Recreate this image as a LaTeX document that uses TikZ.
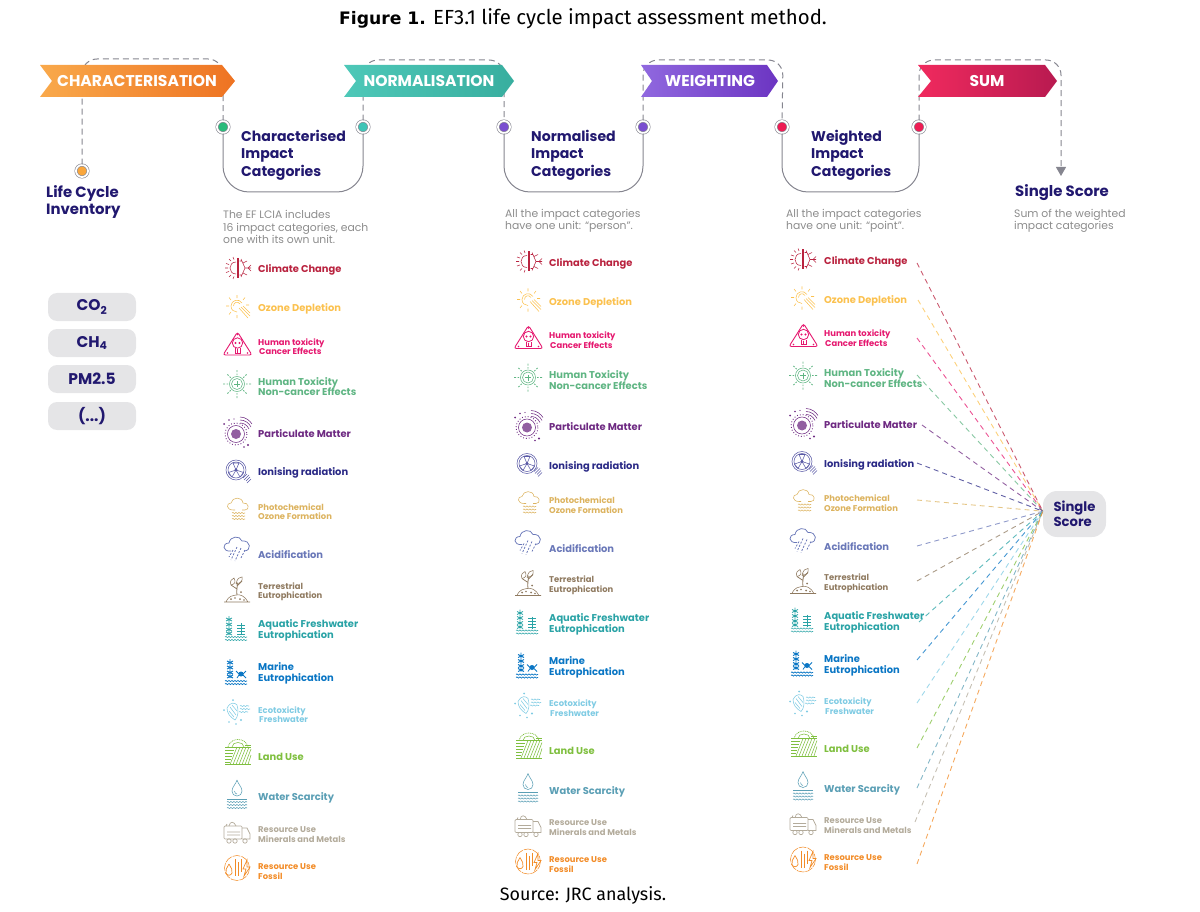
\documentclass[tikz,border=0pt]{standalone}
\usepackage{fontspec}
\usepackage{tikz}
\usepackage{xcolor}
\usetikzlibrary{shapes,arrows.meta,decorations.pathmorphing}
\setmainfont{Fira Sans}
\newfontfamily\gothamfont{Poppins}
\newfontfamily\figfont{DejaVu Sans}

\definecolor{navy}{HTML}{21186F}
\definecolor{greytext}{HTML}{8C8C8C}
\definecolor{flowgrey}{HTML}{85858F}
\definecolor{pillgrey}{HTML}{E5E5E7}
\definecolor{cclimate}{HTML}{B9233F}
\definecolor{cozone}{HTML}{FBC14F}
\definecolor{chumtox}{HTML}{E5186F}
\definecolor{cnoncan}{HTML}{5FB583}
\definecolor{cpart}{HTML}{6E2A82}
\definecolor{cion}{HTML}{2B2A86}
\definecolor{cionicon}{HTML}{5A5AA6}
\definecolor{cphoto}{HTML}{DCB35F}
\definecolor{cacid}{HTML}{6A78B8}
\definecolor{cterr}{HTML}{8F7A60}
\definecolor{caqua}{HTML}{2AA3A6}
\definecolor{cmarine}{HTML}{0A76C4}
\definecolor{ceco}{HTML}{7FCBE3}
\definecolor{cland}{HTML}{7FBF3F}
\definecolor{cwater}{HTML}{5B9FB5}
\definecolor{cmineral}{HTML}{B3AB9B}
\definecolor{cfossil}{HTML}{F28C28}
\definecolor{charleft}{HTML}{F9A94B}
\definecolor{charright}{HTML}{EE7322}
\definecolor{normleft}{HTML}{4EC8B8}
\definecolor{normright}{HTML}{38AE9F}
\definecolor{wgtleft}{HTML}{9068DF}
\definecolor{wgtright}{HTML}{6C35C2}
\definecolor{sumleft}{HTML}{F02A5E}
\definecolor{sumright}{HTML}{B81A50}
\definecolor{dotlcicol}{HTML}{F9A63C}
\definecolor{dotcharcol}{HTML}{2ABB7B}
\definecolor{dotnormcol}{HTML}{3FC4B6}
\definecolor{dotwgtcol}{HTML}{7A4FD0}
\definecolor{dotsumcol}{HTML}{EE1C54}

\tikzset{
  lab/.style={anchor=west,align=left,inner sep=0pt,yshift=-1pt,font=\gothamfont\bfseries\fontsize{9.9}{10.8}\selectfont},
  sublab/.style={anchor=west,align=left,inner sep=0pt,yshift=-0.7pt,font=\gothamfont\bfseries\fontsize{8.4}{9.8}\selectfont},
  head/.style={anchor=west,align=left,inner sep=0pt,yshift=-2pt,text=navy,font=\gothamfont\bfseries\fontsize{14.1}{17.6}\selectfont},
  headwide/.style={head,font=\gothamfont\bfseries\fontsize{14.9}{17.6}\selectfont},
  note/.style={anchor=west,align=left,inner sep=0pt,yshift=-1pt,text=greytext,font=\gothamfont\fontsize{10.8}{12.5}\selectfont},
  bantext/.style={text=white,inner sep=0pt,font=\gothamfont\bfseries\fontsize{15.6}{18}\selectfont},
  pill/.style={fill=pillgrey,rounded corners=9pt,minimum width=88pt,minimum height=28pt,inner sep=0pt,text=navy,font=\gothamfont\bfseries\fontsize{15.5}{17}\selectfont},
  dot/.style={circle,draw=flowgrey,double=white,double distance=1.8pt,line width=0.6pt,minimum size=12pt,inner sep=0pt},
  flow/.style={draw=flowgrey,line width=1pt,dash pattern=on 6pt off 4pt},
  ubend/.style={draw=flowgrey,line width=1pt,rounded corners=26pt},
  link/.style={line width=0.9pt,dash pattern=on 5pt off 4pt,opacity=0.75},
  ico/.style={line width=0.55pt},
  wave/.style={decorate,decoration={snake,amplitude=0.6pt,segment length=3pt}},
  iconclimate/.pic={
    \draw[ico] (-0.5,-10) -- (-0.5,10) (0.5,-10) -- (0.5,10);
    \draw[ico] (-2,-6) .. controls (-10,-6) and (-10,6) .. (-2,6);
    \draw[ico] (-7,-7) -- (-9,-9) (-9,-3.5) -- (-12,-4.5) (-10,0) -- (-13,0) (-9,3.5) -- (-12,4.5) (-7,7) -- (-9,9) (-4,-8.5) -- (-5,-11) (-4,8.5) -- (-5,11);
    \draw[ico] (3,-9) -- (7,0) -- (3,9) (7,0) -- (13,0) (10,0) -- (13,-3) (10,0) -- (13,3) (5,-5) -- (9,-7) (5,5) -- (9,7) (4,-7) -- (1.5,-7) (4,7) -- (1.5,7);
  },
  iconozone/.pic={
    \draw[ico] (4,-4) .. controls (1,-9) and (-7,-7) .. (-7,-1) .. controls (-7,3) and (-4,5) .. (-1,5);
    \draw[ico] (2,-3) .. controls (0,-6) and (-4.5,-5) .. (-4.5,-1);
    \draw[ico] (-1,-9) -- (-1,-12) (5,-7) -- (7,-9.5) (-7,-7) -- (-9,-9.5) (-9,-1) -- (-12,-1) (-7,5) -- (-9,7.5) (8,-2) -- (11,-2) (-1,8) -- (-1,11);
    \draw[ico] (1,1) -- (10,11) (3,0) -- (12,9) (5,-1) -- (12,6);
  },
  icontriangle/.pic={
    \draw[line width=0.9pt,rounded corners=2.5pt] (0,-13) -- (14.5,10) -- (-14.5,10) -- cycle;
    \draw[line width=0.8pt] (0,-2) circle (5.2);
    \fill (-2,-2) circle (1.2) (2,-2) circle (1.2) (-10,8) circle (0.8) (10,8) circle (0.8) (0,-10.5) circle (0.8);
    \draw[ico] (-2.5,3) -- (-2.5,8) -- (2.5,8) -- (2.5,3) (0,4) -- (0,8);
  },
  iconnoncan/.pic={
    \draw[ico] (0,0) circle (7.5) (0,0) circle (5.5);
    \draw[line width=1pt] (-3,0) -- (3,0) (0,-3) -- (0,3);
    \draw[line width=0.8pt] (0:9) -- (0:10.5) (0:12) -- (0:14) (45:9) -- (45:10.5) (45:12) -- (45:13.5) (90:9) -- (90:10.5) (90:12) -- (90:14) (135:9) -- (135:10.5) (135:12) -- (135:13.5) (180:9) -- (180:10.5) (180:12) -- (180:14) (225:9) -- (225:10.5) (225:12) -- (225:13.5) (270:9) -- (270:10.5) (270:12) -- (270:14) (315:9) -- (315:10.5) (315:12) -- (315:13.5);
  },
  iconpart/.pic={
    \draw[line width=0.9pt,dotted] (-1,2) circle (11);
    \draw[ico] (-1,2) circle (8.5);
    \fill[opacity=0.75] (-1,2) circle (5);
    \draw[ico] (3,-9) .. controls (7,-9) and (10,-7) .. (12,-3) (3,-12) .. controls (8,-12) and (12,-9) .. (14,-5) (3,-15) .. controls (9,-15) and (13,-11) .. (15,-8);
    \fill (-13,-8) circle (1) (-8,-12) circle (0.8) (-3,-13) circle (0.7) (11,13) circle (1.1) (7,15) circle (0.8);
  },
  iconion/.pic={
    \draw[ico] (-1,-1) circle (10) (-1,-1) circle (8);
    \fill (-1,-1) circle (1.6);
    \draw[ico] (-1,-1) -- (-4,-8) -- (2,-8) -- cycle (-1,-1) -- (6.5,1.5) -- (3,6) -- cycle (-1,-1) -- (-5,6) -- (-8.5,1.5) -- cycle;
    \draw[ico] (6,7) -- (10,3) (7,9) -- (12,4) (9,10) -- (13,6) (10,12) -- (14,8);
  },
  iconphoto/.pic={
    \draw[ico] (-5,0) .. controls (-12,0) and (-12,-7) .. (-7,-7) .. controls (-6,-13) and (4,-14) .. (5,-7) .. controls (11,-8) and (12,0) .. (7,0) (-5,0) -- (-3,0) (4,0) -- (7,0);
    \draw[ico,wave] (-6,3) -- (7,3);
    \draw[ico,wave] (-6,6) -- (7,6);
    \draw[ico,wave] (-6,9) -- (7,9);
  },
  iconacid/.pic={
    \draw[line width=0.75pt] (-6,2) .. controls (-15,3) and (-15,-6) .. (-8,-6) .. controls (-7,-13) and (3,-14) .. (5,-8) .. controls (14,-9) and (15,2) .. (7,2);
    \draw[line width=0.8pt,dash pattern=on 2pt off 1.5pt] (-4,1) -- (-8,8) (0,-2) -- (-6,11) (4,-1) -- (-2,12) (8,1) -- (4,9);
  },
  iconterr/.pic={
    \draw[ico] (-13,12) -- (13,12) (-11,12) .. controls (-8,5) and (-4,6) .. (-1,5) .. controls (3,4) and (8,6) .. (11,12);
    \draw[line width=0.8pt] (0,5) .. controls (-1,0) and (1,-3) .. (0,-8) (0,-1) -- (-6,-5) (0,-4) -- (5,-9);
    \draw[ico] (-6,-5) .. controls (-8,-9) and (-5,-11) .. (-3,-12) .. controls (-1,-8) and (-2,-6) .. (-6,-5);
    \draw[ico] (-1,-6) .. controls (0,-12) and (3,-13) .. (5,-13) .. controls (6,-9) and (4,-7) .. (-1,-6);
    \fill (-6,9) circle (1) (-2,8) circle (0.9) (3,9) circle (1) (7,10) circle (0.8) (4,2) circle (1);
  },
  iconaqua/.pic={
    \draw[line width=0.8pt] (-7,-13) -- (-7,6) (-10,-11) -- (-4,-8) (-4,-11) -- (-10,-8) (-10,-6) -- (-4,-3) (-4,-6) -- (-10,-3) (-10,-1) -- (-4,2) (-4,-1) -- (-10,2) (-10,3) -- (-4,6) (-4,3) -- (-10,6);
    \draw[line width=0.8pt] (5,-6) -- (5,6) (1,-4) -- (9,-4) (1,-1) -- (9,-1) (1,2) -- (9,2) (1,5) -- (9,5);
    \draw[ico,wave] (-11,8) -- (11,8);
    \draw[ico,wave] (-11,11) -- (11,11);
  },
  iconmarine/.pic={
    \draw[line width=0.9pt] (-6,-14) -- (-6,5) (-9,-12) -- (-3,-9) (-3,-12) -- (-9,-9) (-9,-7) -- (-3,-4) (-3,-7) -- (-9,-4) (-9,-2) -- (-3,1) (-3,-2) -- (-9,1) (-9,2) -- (-3,5) (-3,2) -- (-9,5);
    \fill (5,1) circle (2.5);
    \draw[line width=0.8pt] (0,-2) -- (3,1) (1,5) -- (3,2) (10,-2) -- (7,1) (10,5) -- (7,2);
    \draw[line width=0.7pt,wave] (-11,8) -- (11,8);
    \draw[line width=0.7pt,wave] (-11,11) -- (11,11);
  },
  iconeco/.pic={
    \draw[ico] (-10,-3) .. controls (-6,-10) and (-2,-8) .. (0,-6) .. controls (2,0) and (1,6) .. (-2,9) .. controls (-7,6) and (-10,2) .. (-10,-3);
    \draw[ico] (-7,-4) -- (-1,4) (-5,-6) -- (0,0) (-8,0) -- (-3,6);
    \draw[ico,wave] (3,-5) -- (12,-5);
    \draw[ico,wave] (3,-2) -- (13,-2);
    \draw[ico,wave] (2,1) -- (11,1);
    \fill (-13,-1) circle (1) (-4,-11) circle (1) (4,9) circle (1.2) (-1,13) circle (0.8) (-8,11) circle (0.8);
  },
  iconland/.pic={
    \draw[ico] (-6,-5) .. controls (-6,-11) and (6,-11) .. (6,-5);
    \draw[line width=0.7pt,dash pattern=on 1pt off 0.8pt] (-10,-5) .. controls (-8,-15) and (8,-15) .. (10,-5);
    \draw[ico] (-13,-5) -- (13,-5) (-13,-2) -- (-4,-2) (-13,1) -- (-5,1) (-13,4) -- (-6,4) (-13,7) -- (-7,7) (-13,10) -- (-8,10) (-13,12.5) -- (13,12.5);
    \draw[ico] (-1,-5) -- (-8,12.5) (2,-5) -- (-5,12.5) (5,-5) -- (-2,12.5) (8,-5) -- (1,12.5) (11,-5) -- (4,12.5) (13,-3) -- (7,12.5) (13,3) -- (10,12.5);
    \draw[line width=0.9pt] (7,-7) -- (13,-7);
  },
  iconwater/.pic={
    \draw[ico] (0,-15) .. controls (-1,-11) and (-5,-8) .. (-5,-4) .. controls (-5,-1) and (-3,1) .. (0,1) .. controls (3,1) and (5,-1) .. (5,-4) .. controls (5,-8) and (1,-11) .. (0,-15);
    \draw[ico] (-2.5,-4) .. controls (-2.5,-2) and (-1,-1) .. (0,-1);
    \draw[ico] (-10,4) -- (10,4);
    \draw[ico,wave] (-10,7) -- (10,7);
    \draw[ico,wave] (-10,10) -- (10,10);
    \draw[ico,wave] (-10,13) -- (10,13);
  },
  iconmineral/.pic={
    \draw[line width=0.7pt,rounded corners=1pt] (-13,-6) -- (5,-6) -- (5,7) -- (-13,7) -- cycle;
    \draw[line width=0.7pt] (5,-4) -- (10,-4) -- (13,2) -- (13,7) -- (5,7) (-8,-6) .. controls (-7,-11) and (-3,-11) .. (-1,-6) (-11,-6) -- (-10,-8) (-10,0) -- (3,0) (-10,3) -- (3,3);
    \draw[line width=0.7pt] (-8,9) circle (2.2) (-2,9) circle (2.2) (8,9) circle (2.2);
  },
  iconfossil/.pic={
    \draw[ico,dash pattern=on 8pt off 1pt] (0,0) circle (12.5);
    \draw[line width=0.7pt] (-8,-4) .. controls (-10,0) and (-12,2) .. (-11,5) .. controls (-10,8) and (-6,8) .. (-5,5) .. controls (-4,2) and (-6,0) .. (-8,-4);
    \draw[line width=0.8pt] (-2,-9) -- (-2,8) (1,-6) -- (1,8) (4,-9) -- (4,4);
    \draw[line width=0.7pt] (10,-8) -- (6,1) -- (9,1) -- (7,8) -- (13,-1) -- (10,-1) -- cycle;
  },
}

\begin{document}
\begin{tikzpicture}[x=1pt,y=-1pt]
    \useasboundingbox (0,0) rectangle (1200,912);

    % Title and source
    \node[inner sep=0pt,font=\fontsize{20.4}{24}\selectfont] (title) at (583,18.5) {{\figfont\fontsize{17.2}{24}\selectfont\bfseries Figure 1.} EF3.1 life cycle impact assessment method.};
    \node[inner sep=0pt,font=\fontsize{17.9}{22}\selectfont] (source) at (583,895) {Source: JRC analysis.};

    % Position dots
    \node[dot,fill=dotlcicol] (dotlci) at (82,171) {};
    \node[dot,fill=dotcharcol] (dotchar) at (223,127) {};
    \node[dot,fill=dotnormcol] (dotnormin) at (363,127) {};
    \node[dot,fill=dotwgtcol] (dotnorm) at (504,127) {};
    \node[dot,fill=dotwgtcol] (dotwgtin) at (643,127) {};
    \node[dot,fill=dotsumcol] (dotwgt) at (782,127) {};
    \node[dot,fill=dotsumcol] (dotsum) at (919,127) {};

    % Corners of the flow lines
    \coordinate (chartop) at (223,59);
    \coordinate (normtop) at (504,60);
    \coordinate (wgttop) at (783,60);
    \coordinate (sumtop) at (1061,60);
    \coordinate (sumtip) at (1061,176);
    \coordinate (ubendchar) at (363,192);
    \coordinate (ubendnorm) at (643,192);
    \coordinate (ubendwgt) at (919,192);

    % Dashed lines behind the banners
    \draw[flow,rounded corners=15pt] (dotlci) |- (chartop) -- (dotchar);
    \draw[flow,rounded corners=15pt] (dotnormin) |- (normtop) -- (dotnorm);
    \draw[flow,rounded corners=15pt] (dotwgtin) |- (wgttop) -- (dotwgt);
    \draw[flow,rounded corners=15pt,-{Triangle[width=10pt,length=9pt]}] (dotsum) |- (sumtop) -- (sumtip);

    % Solid bends
    \draw[ubend] (dotchar) |- (ubendchar) -- (dotnormin);
    \draw[ubend] (dotnorm) |- (ubendnorm) -- (dotwgtin);
    \draw[ubend] (dotwgt) |- (ubendwgt) -- (dotsum);

    % Banners
    \shade[left color=charleft,right color=charright] (40,65) -- (222,65) -- (235,81) -- (222,97) -- (40,97) -- (52,81) -- cycle;
    \shade[left color=normleft,right color=normright] (344,65) -- (502,65) -- (514,81) -- (502,97) -- (344,97) -- (356,81) -- cycle;
    \shade[left color=wgtleft,right color=wgtright] (641,65) -- (767,65) -- (778,81) -- (767,97) -- (641,97) -- (652,81) -- cycle;
    \shade[left color=sumleft,right color=sumright] (918,65) -- (1045,65) -- (1057,81) -- (1045,97) -- (918,97) -- (931,81) -- cycle;
    \node[bantext] (characterisation) at (137,81) {CHARACTERISATION};
    \node[bantext] (normalisation) at (429,81) {NORMALISATION};
    \node[bantext] (weighting) at (710,81) {WEIGHTING};
    \node[bantext] (sum) at (987,81) {SUM};

    % Headings
    \node[headwide] (hlci) at (46,200) {Life Cycle\\Inventory};
    \node[head] (hchar) at (241,153) {Characterised\\Impact\\Categories};
    \node[head] (hnorm) at (531,153) {Normalised\\Impact\\Categories};
    \node[head] (hwgt) at (811,153) {Weighted\\Impact\\Categories};
    \node[headwide] (hscore) at (1015,191) {Single Score};

    % Notes
    \node[note] (nchar) at (223,226) {The EF LCIA includes\\16 impact categories, each\\one with its own unit.};
    \node[note] (nnorm) at (505,220) {All the impact categories\\have one unit: “person”.};
    \node[note] (nwgt) at (786,220) {All the impact categories\\have one unit: “point”.};
    \node[note] (nscore) at (1014,220) {Sum of the weighted\\impact categories};

    % Inventory pills
    \node[pill] (co2) at (92,307) {CO\textsubscript{2}};
    \node[pill] (ch4) at (92,343) {CH\textsubscript{4}};
    \node[pill] (pm25) at (92,379) {PM2.5};
    \node[pill] (etc) at (92,416) {(...)};

    % First column
    \pic[cclimate] at (238,268) {iconclimate};
    \pic[cozone] at (238,307) {iconozone};
    \pic[chumtox] at (237.5,345) {icontriangle};
    \pic[cnoncan] at (237,384) {iconnoncan};
    \pic[cpart] at (237,432) {iconpart};
    \pic[cionicon] at (237,471) {iconion};
    \pic[cphoto] at (238,510) {iconphoto};
    \pic[cacid] at (237,549) {iconacid};
    \pic[cterr] at (237,590) {iconterr};
    \pic[caqua] at (236,629) {iconaqua};
    \pic[cmarine] at (236,673) {iconmarine};
    \pic[ceco] at (237,711) {iconeco};
    \pic[cland] at (238,752) {iconland};
    \pic[cwater] at (237,795) {iconwater};
    \pic[cmineral] at (237,832) {iconmineral};
    \pic[cfossil] at (237,868) {iconfossil};
    \node[lab,cclimate] (climate1) at (258,269) {Climate Change};
    \node[lab,cozone] (ozone1) at (258,308) {Ozone Depletion};
    \node[sublab,chumtox] (humtox1) at (258,346) {Human toxicity\\\hspace*{1pt}Cancer Effects};
    \node[lab,cnoncan] (noncan1) at (258,385.5) {Human Toxicity\\Non-cancer Effects};
    \node[lab,cpart] (part1) at (258,432.5) {Particulate Matter};
    \node[lab,cion] (ion1) at (258,472) {Ionising radiation};
    \node[sublab,cphoto] (photo1) at (258,511) {Photochemical\\Ozone Formation};
    \node[lab,cacid] (acid1) at (258,554) {Acidification};
    \node[sublab,cterr] (terr1) at (258,591) {Terrestrial\\Eutrophication};
    \node[lab,caqua] (aqua1) at (258,629.5) {Aquatic Freshwater\\Eutrophication};
    \node[lab,cmarine] (marine1) at (258,672.5) {Marine\\Eutrophication};
    \node[sublab,ceco] (eco1) at (258,714) {Ecotoxicity\\\hspace*{1pt}Freshwater};
    \node[lab,cland] (land1) at (258,756) {Land Use};
    \node[lab,cwater] (water1) at (258,797) {Water Scarcity};
    \node[sublab,cmineral] (mineral1) at (258,833.5) {Resource Use\\Minerals and Metals};
    \node[sublab,cfossil] (fossil1) at (258,870.5) {Resource Use\\Fossil};

    % Second column
    \pic[cclimate] at (529,261.5) {iconclimate};
    \pic[cozone] at (529,300.5) {iconozone};
    \pic[chumtox] at (528.5,338.5) {icontriangle};
    \pic[cnoncan] at (528,377.5) {iconnoncan};
    \pic[cpart] at (528,425.5) {iconpart};
    \pic[cionicon] at (528,464.5) {iconion};
    \pic[cphoto] at (529,503.5) {iconphoto};
    \pic[cacid] at (528,542.5) {iconacid};
    \pic[cterr] at (528,583.5) {iconterr};
    \pic[caqua] at (527,622.5) {iconaqua};
    \pic[cmarine] at (527,666.5) {iconmarine};
    \pic[ceco] at (528,704.5) {iconeco};
    \pic[cland] at (529,745.5) {iconland};
    \pic[cwater] at (528,788.5) {iconwater};
    \pic[cmineral] at (528,825.5) {iconmineral};
    \pic[cfossil] at (528,861.5) {iconfossil};
    \node[lab,cclimate] (climate2) at (549,262.5) {Climate Change};
    \node[lab,cozone] (ozone2) at (549,301.5) {Ozone Depletion};
    \node[sublab,chumtox] (humtox2) at (549,339.5) {Human toxicity\\\hspace*{1pt}Cancer Effects};
    \node[lab,cnoncan] (noncan2) at (549,379) {Human Toxicity\\Non-cancer Effects};
    \node[lab,cpart] (part2) at (549,426) {Particulate Matter};
    \node[lab,cion] (ion2) at (549,465.5) {Ionising radiation};
    \node[sublab,cphoto] (photo2) at (549,504.5) {Photochemical\\Ozone Formation};
    \node[lab,cacid] (acid2) at (549,547.5) {Acidification};
    \node[sublab,cterr] (terr2) at (549,584.5) {Terrestrial\\Eutrophication};
    \node[lab,caqua] (aqua2) at (549,623) {Aquatic Freshwater\\Eutrophication};
    \node[lab,cmarine] (marine2) at (549,666) {Marine\\Eutrophication};
    \node[sublab,ceco] (eco2) at (549,707.5) {Ecotoxicity\\\hspace*{1pt}Freshwater};
    \node[lab,cland] (land2) at (549,749.5) {Land Use};
    \node[lab,cwater] (water2) at (549,790.5) {Water Scarcity};
    \node[sublab,cmineral] (mineral2) at (549,827) {Resource Use\\Minerals and Metals};
    \node[sublab,cfossil] (fossil2) at (549,864) {Resource Use\\Fossil};

    % Third column
    \pic[cclimate] at (803,259.5) {iconclimate};
    \pic[cozone] at (803,298.5) {iconozone};
    \pic[chumtox] at (803.5,336.5) {icontriangle};
    \pic[cnoncan] at (803,375.5) {iconnoncan};
    \pic[cpart] at (803,423.5) {iconpart};
    \pic[cionicon] at (803,462.5) {iconion};
    \pic[cphoto] at (804,501.5) {iconphoto};
    \pic[cacid] at (803,540.5) {iconacid};
    \pic[cterr] at (803,581.5) {iconterr};
    \pic[caqua] at (802,620.5) {iconaqua};
    \pic[cmarine] at (802,664.5) {iconmarine};
    \pic[ceco] at (803,702.5) {iconeco};
    \pic[cland] at (804,743.5) {iconland};
    \pic[cwater] at (803,786.5) {iconwater};
    \pic[cmineral] at (803,823.5) {iconmineral};
    \pic[cfossil] at (803,859.5) {iconfossil};
    \node[lab,cclimate] (climate3) at (824,260.5) {Climate Change};
    \node[lab,cozone] (ozone3) at (824,299.5) {Ozone Depletion};
    \node[sublab,chumtox] (humtox3) at (824,337.5) {Human toxicity\\\hspace*{1pt}Cancer Effects};
    \node[lab,cnoncan] (noncan3) at (824,377) {Human Toxicity\\Non-cancer Effects};
    \node[lab,cpart] (part3) at (824,424) {Particulate Matter};
    \node[lab,cion] (ion3) at (824,463.5) {Ionising radiation};
    \node[sublab,cphoto] (photo3) at (824,502.5) {Photochemical\\Ozone Formation};
    \node[lab,cacid] (acid3) at (824,545.5) {Acidification};
    \node[sublab,cterr] (terr3) at (824,582.5) {Terrestrial\\Eutrophication};
    \node[lab,caqua] (aqua3) at (824,621) {Aquatic Freshwater\\Eutrophication};
    \node[lab,cmarine] (marine3) at (824,664) {Marine\\Eutrophication};
    \node[sublab,ceco] (eco3) at (824,705.5) {Ecotoxicity\\\hspace*{1pt}Freshwater};
    \node[lab,cland] (land3) at (824,747.5) {Land Use};
    \node[lab,cwater] (water3) at (824,788.5) {Water Scarcity};
    \node[sublab,cmineral] (mineral3) at (824,825) {Resource Use\\Minerals and Metals};
    \node[sublab,cfossil] (fossil3) at (824,862) {Resource Use\\Fossil};

    % Final score and its links
    \node[fill=pillgrey,rounded corners=14pt,minimum width=63pt,minimum height=46pt,align=left,inner sep=0pt,text=navy,font=\gothamfont\bfseries\fontsize{13.2}{15}\selectfont] (score) at (1074.5,514) {Single\\Score};
    \coordinate (sclimate) at (917,263);
    \coordinate (sozone) at (918,300);
    \coordinate (shumtox) at (917,338);
    \coordinate (snoncan) at (917,375);
    \coordinate (spart) at (922,425);
    \coordinate (sion) at (917,463);
    \coordinate (sphoto) at (917,500);
    \coordinate (sacid) at (917,546);
    \coordinate (sterr) at (917,581);
    \coordinate (saqua) at (919,622);
    \coordinate (smarine) at (917,660);
    \coordinate (seco) at (917,703);
    \coordinate (sland) at (917,748);
    \coordinate (swater) at (917,788);
    \coordinate (smineral) at (915,822);
    \coordinate (sfossil) at (917,864);
    \draw[link,cclimate] (sclimate) -- (score.175);
    \draw[link,cozone] (sozone) -- (score.175);
    \draw[link,chumtox] (shumtox) -- (score.175);
    \draw[link,cnoncan] (snoncan) -- (score.175);
    \draw[link,cpart] (spart) -- (score.175);
    \draw[link,cion] (sion) -- (score.175);
    \draw[link,cphoto] (sphoto) -- (score.175);
    \draw[link,cacid] (sacid) -- (score.175);
    \draw[link,cterr] (sterr) -- (score.175);
    \draw[link,caqua] (saqua) -- (score.175);
    \draw[link,cmarine] (smarine) -- (score.175);
    \draw[link,ceco] (seco) -- (score.175);
    \draw[link,cland] (sland) -- (score.175);
    \draw[link,cwater] (swater) -- (score.175);
    \draw[link,cmineral] (smineral) -- (score.175);
    \draw[link,cfossil] (sfossil) -- (score.175);
\end{tikzpicture}
\end{document}
